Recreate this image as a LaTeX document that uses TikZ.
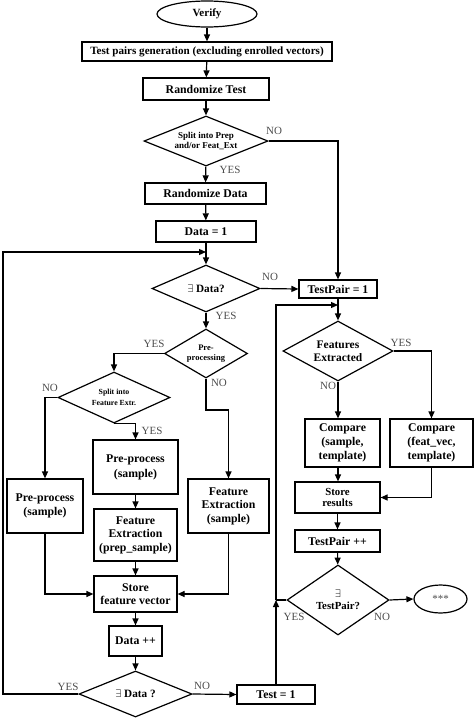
\documentclass[tikz,border=0pt]{standalone}
\usepackage{fontspec}
\setmainfont{Liberation Serif}
\usetikzlibrary{shapes.geometric,arrows.meta}
\begin{document}
\begin{tikzpicture}[x=1pt, y=-1pt, line width=1.2pt,
  box/.style={draw, rectangle, inner sep=1pt, align=center, font=\fontsize{11.8}{13.5}\selectfont\bfseries},
  dec/.style={draw, diamond, inner sep=0pt, align=center, font=\fontsize{11.2}{12.5}\selectfont\bfseries},
  term/.style={draw, ellipse, inner sep=0pt, align=center},
  lbl/.style={inner sep=0pt, text=black!70, font=\fontsize{11}{12}\selectfont},
  arr/.style={-{Triangle[length=7pt,width=6pt]}}]
\useasboundingbox (0,0) rectangle (474,718);

% Top part
\node[term, minimum width=100pt, minimum height=26pt, font=\fontsize{11}{12}\selectfont\bfseries] (verify) at (207,14) {Verify};
\node[box, minimum width=250pt, minimum height=19pt, font=\fontsize{11.1}{12}\selectfont\bfseries] (gen) at (207,51.5) {Test pairs generation (excluding enrolled vectors)};
\node[box, minimum width=126pt, minimum height=22pt] (randt) at (206,89) {Randomize Test};
\node[dec, minimum width=124pt, minimum height=50pt, aspect=2.5, font=\fontsize{9}{10}\selectfont\bfseries] (split) at (206,141) {Split into Prep\\and/or Feat\_Ext};
\node[box, minimum width=121pt, minimum height=21pt] (randd) at (205.5,193.5) {Randomize Data};
\node[box, minimum width=100pt, minimum height=21pt] (data1) at (206,231.5) {Data = 1};
\node[dec, minimum width=108pt, minimum height=47pt, aspect=2.3] (exdata) at (206,288.5) {$\exists$ Data?};

% Left part
\node[dec, minimum width=83pt, minimum height=49pt, aspect=1.7, font=\fontsize{8.5}{10.5}\selectfont\bfseries] (prep) at (206,353.5) {Pre-\\processing};
\node[dec, minimum width=112pt, minimum height=51pt, aspect=2.2, font=\fontsize{7.8}{10.5}\selectfont\bfseries] (splitfe) at (114,397.5) {Split into\\Feature Extr.};
\node[box, minimum width=85pt, minimum height=54pt, font=\fontsize{11.8}{15}\selectfont\bfseries] (pps) at (135.5,467) {Pre-process\\(sample)};
\node[box, minimum width=76pt, minimum height=54pt] (ppl) at (45,506) {Pre-process\\(sample)};
\node[box, minimum width=81pt, minimum height=54pt] (fes) at (228.5,506) {Feature\\Extraction\\(sample)};
\node[box, minimum width=83pt, minimum height=52pt] (fep) at (135.5,535) {Feature\\Extraction\\(prep\_sample)};
\node[box, minimum width=83pt, minimum height=36pt] (store) at (135.5,594) {Store\\feature vector};
\node[box, minimum width=53pt, minimum height=30pt] (datapp) at (135.5,641) {Data ++};
\node[dec, minimum width=113pt, minimum height=46pt, aspect=2.4, font=\fontsize{11.2}{12.5}\selectfont] (exdata2) at (135.5,694) {$\exists$ \textbf{Data ?}};
\node[box, minimum width=78pt, minimum height=19pt] (test1) at (276,694.5) {Test = 1};

% Right part
\node[box, minimum width=78pt, minimum height=18pt] (tp1) at (338,289) {TestPair = 1};
\node[dec, minimum width=110pt, minimum height=60pt, aspect=1.8, font=\fontsize{11.5}{13}\selectfont\bfseries] (fext) at (338,351) {Features\\Extracted};
\node[box, minimum width=75pt, minimum height=48pt, font=\fontsize{11.8}{14}\selectfont\bfseries] (cmps) at (342.5,443) {Compare\\(sample,\\template)};
\node[box, minimum width=83pt, minimum height=48pt, font=\fontsize{11.8}{14}\selectfont\bfseries] (cmpf) at (431.5,443) {Compare\\(feat\_vec,\\template)};
\node[box, minimum width=85pt, minimum height=31pt, font=\fontsize{10.8}{11.5}\selectfont\bfseries] (storer) at (337.5,497.5) {Store\\results};
\node[box, minimum width=85pt, minimum height=22pt] (tppp) at (337.5,541) {TestPair ++};
\node[dec, minimum width=102pt, minimum height=70pt, aspect=1.46, font=\fontsize{10.8}{12}\selectfont] (extp) at (338,600) {$\exists$\\\textbf{TestPair?}};
\node[term, minimum width=53pt, minimum height=28pt, text=black!70, font=\fontsize{11}{12}\selectfont] (end) at (440.5,599) {***};

% Junctions
\coordinate (lft) at (3,252);
\coordinate (j1) at (data1.south |- lft);
\coordinate (k1) at (prep.south |- 0,410);
\coordinate (j2) at (test1.north |- extp.west);
\coordinate (j3) at (test1.north |- 0,305);
\coordinate (j4) at (tp1.south |- j3);

% Connections
\draw[arr] (verify) -- (gen);
\draw[arr] (gen) -- (randt);
\draw[arr] (randt) -- (split);
\draw[arr] (split) -- (randd);
\draw[arr] (split.east) -| (tp1.north);
\draw[arr] (randd) -- (data1);
\draw[arr] (data1) -- (exdata);
\draw[arr] (exdata2.west) -| (lft) -- (j1);
\draw[arr] (exdata.east) -- (tp1.west);
\draw[arr] (exdata) -- (prep);
\draw[arr] (prep.west) -| (splitfe.north);
\draw[arr] (prep.south) -- (k1) -| (fes.north);
\draw[arr] (splitfe.west) -| (ppl.north);
\draw[arr] (splitfe.south) -| (pps.north);
\draw[arr] (pps) -- (fep);
\draw[arr] (fep) -- (store);
\draw[arr] (ppl.south) |- (store.west);
\draw[arr] (fes.south) |- (store.east);
\draw[arr] (store) -- (datapp);
\draw[arr] (datapp) -- (exdata2);
\draw[arr] (exdata2.east) -- (test1.west);
\draw[arr] (test1.north) -- (j2);
\draw (extp.west) -- (j2);
\draw[arr] (j2) -- (j3) -- (j4);
\draw[arr] (tp1) -- (fext);
\draw[arr] (fext.south) -- (fext.south |- cmps.north);
\draw[arr] (fext.east) -| (cmpf.north);
\draw[arr] (fext.south |- cmps.south) -- (fext.south |- storer.north);
\draw[arr] (cmpf.south) |- (storer.east);
\draw[arr] (storer) -- (tppp);
\draw[arr] (tppp) -- (extp);
\draw[arr] (extp.east) -- (end.west);

% Labels
\node[lbl] (nosplit) at (274,131) {NO};
\node[lbl] (yessplit) at (230,170) {YES};
\node[lbl] (noex) at (270,277) {NO};
\node[lbl] (yesex) at (226,316) {YES};
\node[lbl] (yesprep) at (154,344) {YES};
\node[lbl] (noprep) at (219,383) {NO};
\node[lbl] (nofe) at (50,388) {NO};
\node[lbl] (yesfe) at (152,431) {YES};
\node[lbl] (yesfext) at (401,343) {YES};
\node[lbl] (nofext) at (328,386) {NO};
\node[lbl] (yestp) at (294,617) {YES};
\node[lbl] (notp) at (382,617) {NO};
\node[lbl] (yesex2) at (68,687) {YES};
\node[lbl] (noex2) at (202,686) {NO};

\end{tikzpicture}
\end{document}
